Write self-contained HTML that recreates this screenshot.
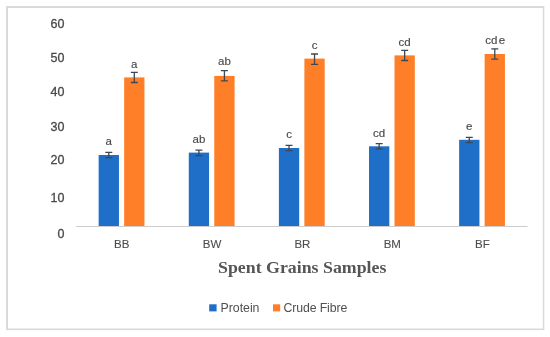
<!DOCTYPE html>
<html><head><meta charset="utf-8"><style>
html,body{margin:0;padding:0;background:#fff;}
body>*{filter:blur(0.3px);}
body{width:550px;height:337px;overflow:hidden;position:relative;}
svg{position:absolute;left:0;top:0;}
text{font-family:"Liberation Sans",sans-serif;fill:#484848;stroke:#484848;stroke-width:0.3px;}
.yl{font-size:12.5px;text-anchor:end;}
.xl{font-size:11.5px;text-anchor:middle;stroke-width:0.1px;fill:#4d4d4d;stroke:#4d4d4d;}
.dl{font-size:11.5px;text-anchor:middle;stroke-width:0.15px;}
.lg{font-size:12.3px;stroke:none;fill:#505050;}
.ti{font-family:"Liberation Serif",serif;font-weight:bold;font-size:16.9px;text-anchor:middle;stroke:none;fill:#555555;}
</style></head><body>
<svg width="550" height="337" viewBox="0 0 550 337">
<rect x="6" y="6" width="2" height="324" fill="#dadada"/>
<rect x="6" y="6" width="538" height="2" fill="#dadada"/>
<rect x="542.8" y="6" width="1.5" height="324" fill="#dadada"/>
<rect x="6" y="328.5" width="538.3" height="1.6" fill="#dadada"/>
<rect x="98.65" y="155.0" width="20.3" height="71.00" fill="#1f6fc8"/>
<rect x="124.15" y="77.4" width="20.3" height="148.60" fill="#fe7f27"/>
<rect x="188.77" y="152.6" width="20.3" height="73.40" fill="#1f6fc8"/>
<rect x="214.27" y="75.9" width="20.3" height="150.10" fill="#fe7f27"/>
<rect x="278.89" y="148.0" width="20.3" height="78.00" fill="#1f6fc8"/>
<rect x="304.39" y="58.6" width="20.3" height="167.40" fill="#fe7f27"/>
<rect x="369.01" y="146.3" width="20.3" height="79.70" fill="#1f6fc8"/>
<rect x="394.51" y="55.4" width="20.3" height="170.60" fill="#fe7f27"/>
<rect x="459.13" y="139.8" width="20.3" height="86.20" fill="#1f6fc8"/>
<rect x="484.63" y="54.0" width="20.3" height="172.00" fill="#fe7f27"/>
<line x1="76.2" y1="226.5" x2="527.6" y2="226.5" stroke="#cccccc" stroke-width="1"/>
<path d="M105.30 152.4H112.30M108.80 152.4V157.6M105.30 157.6H112.30" stroke="#3f4852" stroke-width="1.3" fill="none"/>
<path d="M130.80 72.4H137.80M134.30 72.4V82.5M130.80 82.5H137.80" stroke="#3f4852" stroke-width="1.3" fill="none"/>
<path d="M195.42 150.2H202.42M198.92 150.2V155.6M195.42 155.6H202.42" stroke="#3f4852" stroke-width="1.3" fill="none"/>
<path d="M220.92 70.7H227.92M224.42 70.7V80.8M220.92 80.8H227.92" stroke="#3f4852" stroke-width="1.3" fill="none"/>
<path d="M285.54 145.4H292.54M289.04 145.4V150.6M285.54 150.6H292.54" stroke="#3f4852" stroke-width="1.3" fill="none"/>
<path d="M311.04 54.0H318.04M314.54 54.0V64.3M311.04 64.3H318.04" stroke="#3f4852" stroke-width="1.3" fill="none"/>
<path d="M375.66 143.7H382.66M379.16 143.7V148.9M375.66 148.9H382.66" stroke="#3f4852" stroke-width="1.3" fill="none"/>
<path d="M401.16 50.4H408.16M404.66 50.4V60.5M401.16 60.5H408.16" stroke="#3f4852" stroke-width="1.3" fill="none"/>
<path d="M465.78 137.4H472.78M469.28 137.4V142.6M465.78 142.6H472.78" stroke="#3f4852" stroke-width="1.3" fill="none"/>
<path d="M491.28 48.8H498.28M494.78 48.8V59.1M491.28 59.1H498.28" stroke="#3f4852" stroke-width="1.3" fill="none"/>
<text x="108.80" y="145.1" class="dl">a</text>
<text x="134.30" y="67.7" class="dl">a</text>
<text x="198.92" y="142.9" class="dl">ab</text>
<text x="224.42" y="65.4" class="dl">ab</text>
<text x="289.04" y="138.2" class="dl">c</text>
<text x="314.54" y="49.0" class="dl">c</text>
<text x="379.16" y="136.5" class="dl">cd</text>
<text x="404.66" y="45.7" class="dl">cd</text>
<text x="469.28" y="130.3" class="dl">e</text>
<text x="495.18" y="43.9" class="dl">cd<tspan dx="1.2">e</tspan></text>
<text x="64.5" y="27.6" class="yl">60</text>
<text x="64.5" y="62.2" class="yl">50</text>
<text x="64.5" y="96.2" class="yl">40</text>
<text x="64.5" y="131.2" class="yl">30</text>
<text x="64.5" y="164.2" class="yl">20</text>
<text x="64.5" y="201.7" class="yl">10</text>
<text x="64.5" y="237.5" class="yl">0</text>
<text x="121.75" y="248.3" class="xl">BB</text>
<text x="212.1" y="248.3" class="xl">BW</text>
<text x="302.4" y="248.3" class="xl">BR</text>
<text x="392.25" y="248.3" class="xl">BM</text>
<text x="482.35" y="248.3" class="xl">BF</text>
<text x="302.2" y="272.8" class="ti" textLength="168.4" lengthAdjust="spacingAndGlyphs">Spent Grains Samples</text>
<rect x="209.2" y="304.3" width="7.4" height="7.1" fill="#1f6fc8"/>
<text x="220.5" y="311.6" class="lg">Protein</text>
<rect x="273" y="304.3" width="7.2" height="7.1" fill="#fe7f27"/>
<text x="283.5" y="311.6" class="lg" letter-spacing="-0.12">Crude Fibre</text>
</svg>
</body></html>
